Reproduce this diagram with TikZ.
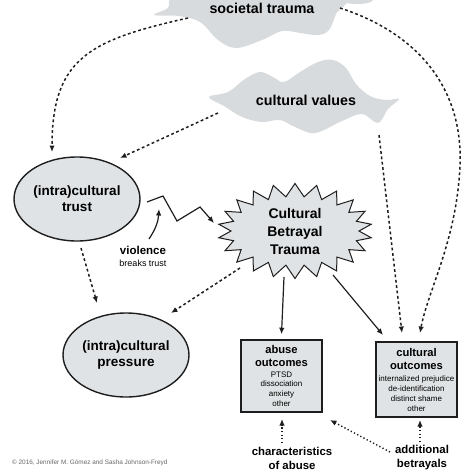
\documentclass[tikz,border=0pt]{standalone}
\usepackage{fontspec}
\setmainfont{Liberation Sans}
\usetikzlibrary{shapes.geometric,shapes.symbols,arrows.meta}
\definecolor{cloudgray}{RGB}{216,219,221}
\definecolor{nodegray}{RGB}{224,227,229}
\definecolor{inkc}{RGB}{30,30,30}
\begin{document}
\begin{tikzpicture}[x=1pt,y=-1pt,
  tip/.style={-{Latex[length=6.5pt,width=5.5pt]}},
  dsh/.style={tip, line width=1.5pt, dash pattern=on 2.8pt off 2.6pt, draw=inkc},
  dts/.style={tip, line width=1.4pt, dash pattern=on 1.3pt off 2.3pt, draw=inkc},
  sld/.style={tip, line width=1.2pt, draw=inkc},
  oval/.style={ellipse, draw=inkc, line width=1.4pt, fill=nodegray, minimum width=126pt, minimum height=84pt, inner sep=0pt, align=center, font=\bfseries\fontsize{13.5}{16}\selectfont},
  outbox/.style={rectangle, draw=inkc, line width=1.5pt, fill=nodegray, minimum width=81pt, inner sep=0pt, align=center, font=\fontsize{8}{9.8}\selectfont},
  cloudtxt/.style={font=\bfseries\fontsize{14.3}{17}\selectfont},
  lbl/.style={align=center, font=\bfseries\fontsize{11.4}{14}\selectfont, inner sep=0pt},
]
\useasboundingbox (0,0) rectangle (474,474);

% clouds
\fill[cloudgray] plot[smooth cycle, tension=0.6] coordinates {(154,15) (168,8) (178,-4) (260,-8) (344,-4) (336,14) (329,30) (318,35) (300,33) (282,31) (262,40) (236,48) (218,40) (200,22) (178,16)};
\fill[cloudgray] (357,0) ellipse [x radius=16pt, y radius=4pt];
\fill[cloudgray] plot[smooth cycle, tension=0.6] coordinates {(209,97) (228,92) (245,79) (260,72) (273,77) (284,82) (300,72) (318,62) (333,60) (346,68) (356,84) (370,96) (386,100) (399,99) (388,109) (378,123) (362,114) (342,121) (315,133) (295,127) (280,120) (262,122) (242,117) (224,106)};

\node[cloudtxt] (societal) at (262,8) {societal trauma};
\node[cloudtxt] (values) at (306,100) {cultural values};

% ovals
\node[oval] (trust) at (77,199) {(intra)cultural\\trust};
\node[oval] (pressure) at (126,355) {(intra)cultural\\pressure};

% starburst
\node[starburst, starburst points=22, starburst point height=13pt, random starburst=0, draw=inkc, line width=1pt, fill=nodegray, minimum width=154pt, minimum height=95pt, inner sep=0pt, align=center, font=\bfseries\fontsize{14}{18}\selectfont] (cbt) at (295,231) {Cultural\\Betrayal\\Trauma};

% boxes
\node[outbox, minimum height=72pt] (abuse) at (281.5,376) {{\bfseries\fontsize{11.2}{13}\selectfont abuse}\\[3pt]{\bfseries\fontsize{11.2}{13}\selectfont outcomes}\\[1pt]PTSD\\dissociation\\anxiety\\other};
\node[outbox, minimum height=75pt] (cultout) at (416.5,379.5) {{\bfseries\fontsize{11.2}{13}\selectfont cultural}\\[4pt]{\bfseries\fontsize{11.2}{13}\selectfont outcomes}\\[2pt]internalized prejudice\\de-identification\\distinct shame\\other};

% labels
\node[lbl] (charab) at (292,458) {characteristics\\of abuse};
\node[lbl] (addbet) at (422,458) {additional\\betrayals};
\node[align=center, inner sep=0pt] (viol) at (143,256) {{\bfseries\fontsize{11.5}{13}\selectfont violence}\\{\fontsize{9}{10}\selectfont breaks trust}};
\node[anchor=west, inner sep=0pt, text=black!60, font=\fontsize{6.4}{7}\selectfont] (copy) at (12,463) {\textcopyright{} 2016, Jennifer M. Gómez and Sasha Johnson-Freyd};

% coordinates for connector ends
\coordinate (s1) at (188,18);
\coordinate (s2) at (340,8);
\coordinate (v1) at (218,113);
\coordinate (v2) at (379,135);
\coordinate (t1) at (52,152);
\coordinate (t2) at (120,158);
\coordinate (co1) at (402,333);
\coordinate (co2) at (420,333);
\coordinate (co3) at (383,335);
\coordinate (z0) at (147,202);
\coordinate (z1) at (163,196);
\coordinate (z2) at (177,221);
\coordinate (z3) at (200,207);
\coordinate (z4) at (214,223);
\coordinate (vb) at (149,239);
\coordinate (vt) at (159,209);
\coordinate (c1) at (284,277);
\coordinate (c2) at (333,275);
\coordinate (c3) at (240,268);
\coordinate (p1) at (171,313);
\coordinate (tr1) at (81,248);
\coordinate (p2) at (97,303);
\coordinate (ab1) at (282,419);
\coordinate (ab2) at (330,420);
\coordinate (cb1) at (282,443);
\coordinate (ad1) at (390,452);
\coordinate (ad2) at (420,442);
\coordinate (cb2) at (420,420);

% dashed connectors
\draw[dsh] (s1) .. controls (90,40) and (52,58) .. (t1);
\draw[dsh] (v1) -- (t2);
\draw[dsh] (s2) .. controls (420,34) and (463,90) .. (460,165) .. controls (457,240) and (428,290) .. (co2);
\draw[dsh] (v2) -- (co1);
\draw[dsh] (tr1) -- (p2);
\draw[dsh] (c3) -- (p1);

% solid connectors
\draw[sld] (c1) -- ([yshift=5pt]abuse.north);
\draw[sld] (c2) -- (co3);
\draw[sld] (z0) -- (z1) -- (z2) -- (z3) -- (z4);
\draw[sld] (vb) to[bend right=15] (vt);

% dotted connectors
\draw[dts] (cb1) -- (ab1);
\draw[dts] (ad1) -- (ab2);
\draw[dts] (ad2) -- (cb2);
\end{tikzpicture}
\end{document}
